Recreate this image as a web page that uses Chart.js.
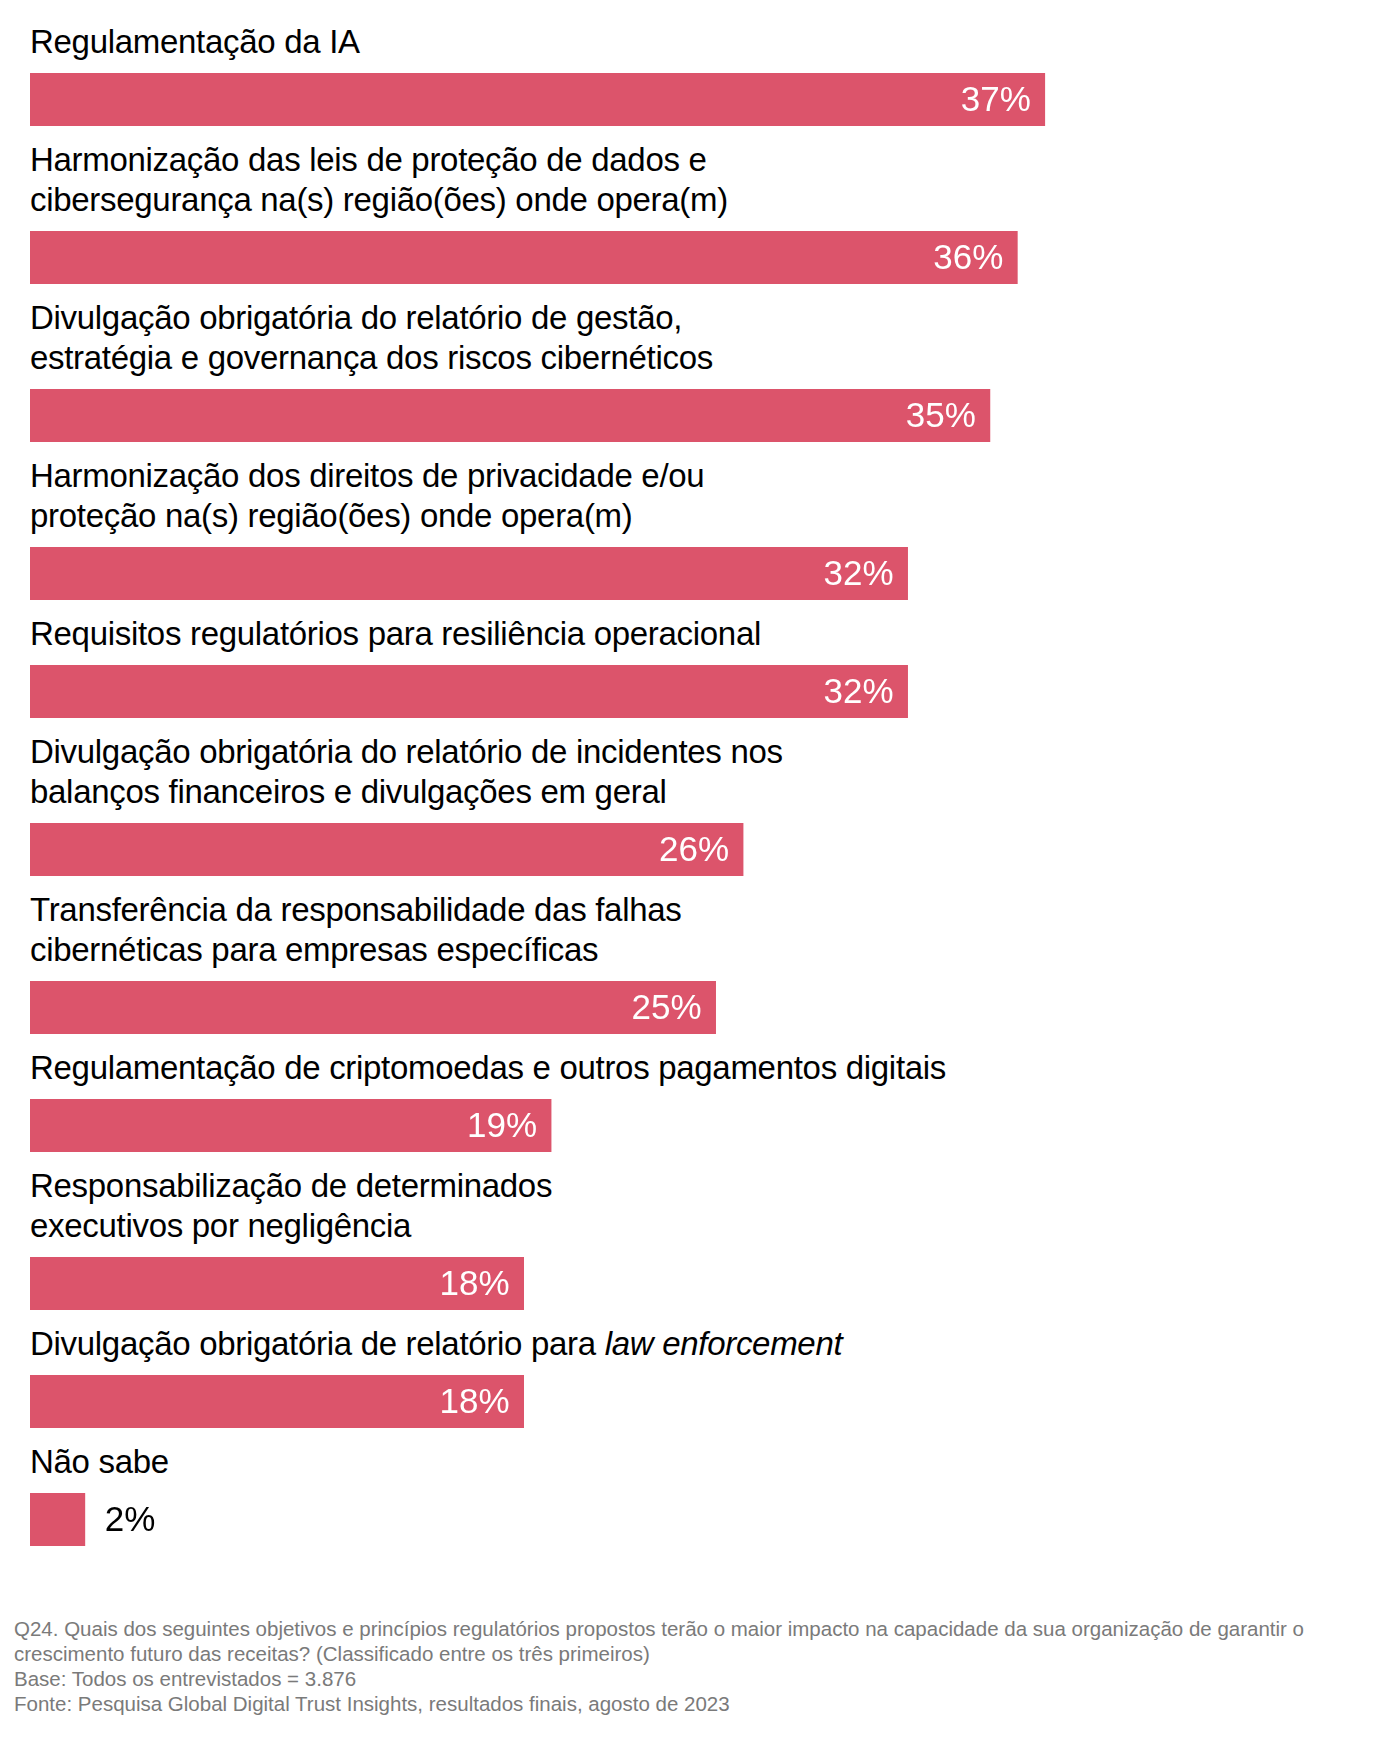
<!DOCTYPE html>
<html><head><meta charset="utf-8">
<script src="https://cdn.jsdelivr.net/npm/chart.js@4"></script>
<style>
body{margin:0;background:#fff;font-family:"Liberation Sans",Arial,sans-serif;}
#wrap{padding:22px 0 0 30px;width:1366px;}
.lbl{font-size:33px;line-height:40px;color:#000;margin:14px 0 11px 0;letter-spacing:-0.3px}
.lbl:first-child{margin-top:0}
.row{height:53px;width:1300px;position:relative}
#foot{position:absolute;left:14px;top:1616px;font-size:20.5px;line-height:25px;color:#7a7a7a;width:1380px}
</style></head><body>
<div id="wrap"></div>
<div id="foot">Q24. Quais dos seguintes objetivos e princípios regulatórios propostos terão o maior impacto na capacidade da sua organização de garantir o<br>crescimento futuro das receitas? (Classificado entre os três primeiros)<br>Base: Todos os entrevistados = 3.876<br>Fonte: Pesquisa Global Digital Trust Insights, resultados finais, agosto de 2023</div>
<script>
const categories = [
 "Regulamentação da IA",
 "Harmonização das leis de proteção de dados e<br>cibersegurança na(s) região(ões) onde opera(m)",
 "Divulgação obrigatória do relatório de gestão,<br>estratégia e governança dos riscos cibernéticos",
 "Harmonização dos direitos de privacidade e/ou<br>proteção na(s) região(ões) onde opera(m)",
 "Requisitos regulatórios para resiliência operacional",
 "Divulgação obrigatória do relatório de incidentes nos<br>balanços financeiros e divulgações em geral",
 "Transferência da responsabilidade das falhas<br>cibernéticas para empresas específicas",
 "Regulamentação de criptomoedas e outros pagamentos digitais",
 "Responsabilização de determinados<br>executivos por negligência",
 "Divulgação obrigatória de relatório para <i>law enforcement</i>",
 "Não sabe"
];
const values = [37,36,35,32,32,26,25,19,18,18,2];
const xMax = 47.4;
const barColor = "#DC546B";

const valuePlugin = {
  id:'vals',
  afterDatasetsDraw(chart){
    const ctx = chart.ctx;
    chart.getDatasetMeta(0).data.forEach((el,i)=>{
      const v = chart.data.datasets[0].data[i];
      ctx.save();
      ctx.font = '35px "Liberation Sans", Arial, sans-serif';
      ctx.textBaseline = 'middle';
      if (v >= 5) { ctx.fillStyle='#fff'; ctx.textAlign='right'; ctx.fillText(v+'%', el.x-14, el.y+2); }
      else { ctx.fillStyle='#000'; ctx.textAlign='left'; ctx.fillText(v+'%', el.x+20, el.y+2); }
      ctx.restore();
    });
  }
};

const wrap = document.getElementById('wrap');
categories.forEach((c,i)=>{
  const l = document.createElement('div'); l.className='lbl'; l.innerHTML=c; wrap.appendChild(l);
  const r = document.createElement('div'); r.className='row';
  const cv = document.createElement('canvas'); r.appendChild(cv); wrap.appendChild(r);
  new Chart(cv,{
    type:'bar',
    data:{labels:[categories[i]],datasets:[{data:[values[i]],backgroundColor:barColor,barPercentage:1,categoryPercentage:1}]},
    options:{indexAxis:'y',responsive:true,maintainAspectRatio:false,animation:false,
      layout:{padding:0},
      plugins:{legend:{display:false},tooltip:{enabled:false}},
      scales:{x:{display:false,min:0,max:xMax},y:{display:false}}},
    plugins:[valuePlugin]
  });
});
</script></body></html>
